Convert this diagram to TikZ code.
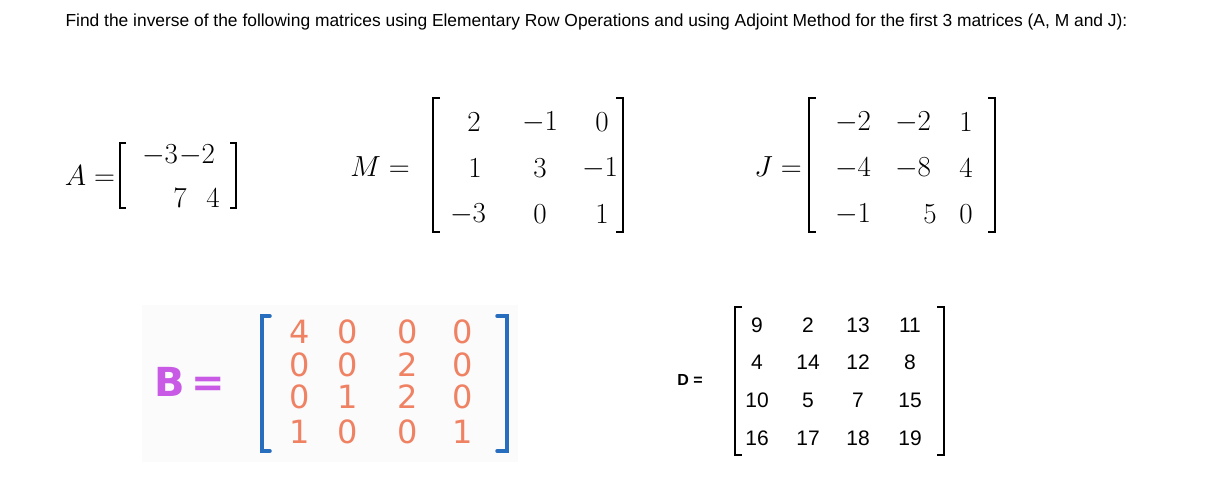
\documentclass[tikz,border=0pt]{standalone}
\usepackage{fontspec}
\newfontfamily\arial{Liberation Sans}
\newfontfamily\comic{DejaVu Sans}
\begin{document}
\begin{tikzpicture}[x=1pt,y=-1pt,
  mt/.style={font=\fontsize{20}{24}\selectfont,scale=1.4},
  bk/.style={line width=1.3pt},
  bb/.style={line width=3.5pt,draw={rgb,255:red,40;green,110;blue,190},line cap=round},
  be/.style={font=\comic\fontsize{32}{34}\selectfont,text={rgb,255:red,240;green,130;blue,100}},
  de/.style={font=\arial\fontsize{21}{24}\selectfont}]
\useasboundingbox (0,0) rectangle (1213,488);
\node[font=\arial\fontsize{17.4}{20}\selectfont,anchor=west] (title) at (62,22) {Find the inverse of the following matrices using Elementary Row Operations and using Adjoint Method for the first 3 matrices (A, M and J):};
% A
\node[mt] (Al) at (90,176) {$A=$};
\draw[bk] (126,143) -- (120,143) -- (120,208) -- (126,208);
\draw[bk] (230,143) -- (236,143) -- (236,208) -- (230,208);
\node[mt] (a11) at (160,155) {$-3$};
\node[mt] (a12) at (197,155) {$-2$};
\node[mt] (a21) at (180,198) {$7$};
\node[mt] (a22) at (213,198) {$4$};
% M
\node[mt] (Ml) at (380,167) {$M=$};
\draw[bk] (440,98) -- (433,98) -- (433,232) -- (440,232);
\draw[bk] (616,98) -- (623,98) -- (623,232) -- (616,232);
\node[mt] at (474,122) {$2$};
\node[mt] at (540,122) {$-1$};
\node[mt] at (602,122) {$0$};
\node[mt] at (475,168) {$1$};
\node[mt] at (540,168) {$3$};
\node[mt] at (600,168) {$-1$};
\node[mt] at (468,214) {$-3$};
\node[mt] at (540,214) {$0$};
\node[mt] at (602,214) {$1$};
% J
\node[mt] (Jl) at (778,167) {$J=$};
\draw[bk] (816,98) -- (809,98) -- (809,232) -- (816,232);
\draw[bk] (988,98) -- (995,98) -- (995,232) -- (988,232);
\node[mt] at (853,122) {$-2$};
\node[mt] at (913,122) {$-2$};
\node[mt] at (966,122) {$1$};
\node[mt] at (853,168) {$-4$};
\node[mt] at (913,168) {$-8$};
\node[mt] at (966,168) {$4$};
\node[mt] at (853,214) {$-1$};
\node[mt] at (930,214) {$5$};
\node[mt] at (966,214) {$0$};
% B
\fill[gray!3] (142,305) rectangle (518,462);
\node[font=\comic\bfseries\fontsize{40}{42}\selectfont,text={rgb,255:red,200;green,90;blue,230}] (Bl) at (190,382) {B\,=};
\draw[bb] (270,316) -- (262,316) -- (262,451) -- (270,451);
\draw[bb] (497,316) -- (507,316) -- (507,451) -- (497,451);
\node[be] at (300,332) {4}; \node[be] at (348,332) {0}; \node[be] at (408,332) {0}; \node[be] at (463,332) {0};
\node[be] at (300,365) {0}; \node[be] at (348,365) {0}; \node[be] at (408,365) {2}; \node[be] at (463,365) {0};
\node[be] at (300,397) {0}; \node[be] at (348,397) {1}; \node[be] at (408,397) {2}; \node[be] at (463,397) {0};
\node[be] at (300,432) {1}; \node[be] at (348,432) {0}; \node[be] at (408,432) {0}; \node[be] at (463,432) {1};
% D
\node[font=\arial\bfseries\fontsize{16}{18}\selectfont] (Dl) at (690,380) {D =};
\draw[line width=1.1pt] (742,307) -- (735,307) -- (735,455) -- (742,455);
\draw[line width=1.1pt] (937,307) -- (944,307) -- (944,455) -- (937,455);
\node[de] at (757,325) {9}; \node[de] at (808,325) {2}; \node[de] at (858,325) {13}; \node[de] at (910,325) {11};
\node[de] at (757,362) {4}; \node[de] at (808,362) {14}; \node[de] at (858,362) {12}; \node[de] at (910,362) {8};
\node[de] at (757,400) {10}; \node[de] at (808,400) {5}; \node[de] at (858,400) {7}; \node[de] at (910,400) {15};
\node[de] at (757,438) {16}; \node[de] at (808,438) {17}; \node[de] at (858,438) {18}; \node[de] at (910,438) {19};
\end{tikzpicture}
\end{document}
